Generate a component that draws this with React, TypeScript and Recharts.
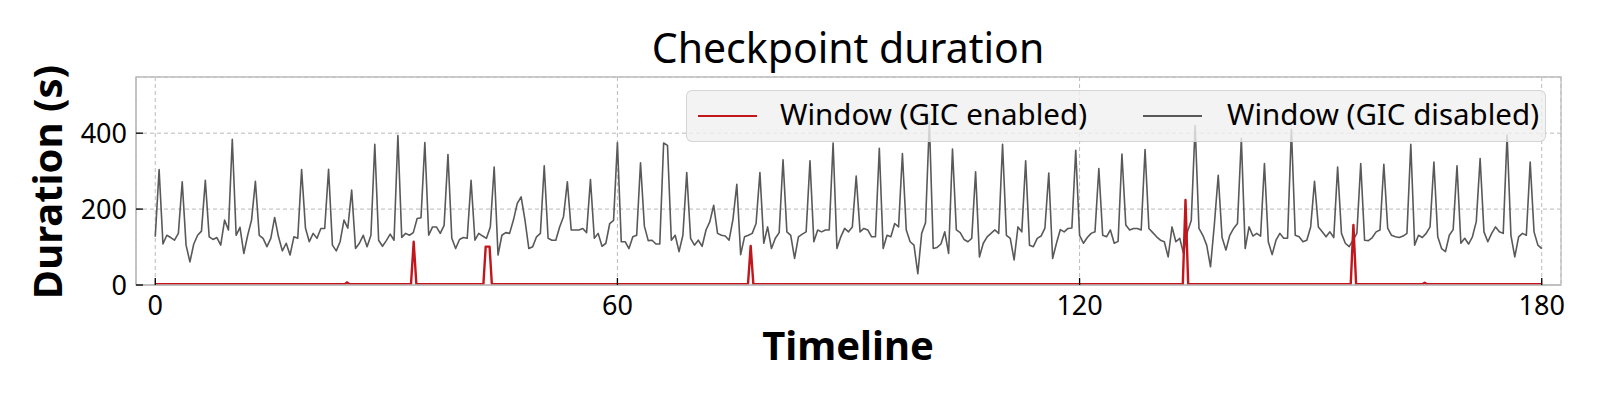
import { CartesianGrid, Legend, Line, LineChart, ReferenceArea, XAxis, YAxis } from "recharts";

// checkpoint duration samples, one every half unit of the timeline
const timeline = Array.from({ length: 361 }, (_, i) => i * 0.5);

const gicDisabled = [
  127, 304, 108, 131, 125, 118, 136, 272, 105, 61,
  108, 131, 142, 276, 127, 120, 125, 105, 171, 145,
  384, 131, 152, 83, 131, 171, 273, 131, 123, 101,
  123, 178, 127, 90, 110, 79, 127, 123, 304, 150,
  114, 136, 123, 149, 149, 305, 105, 90, 114, 171,
  150, 250, 96, 110, 131, 101, 131, 371, 118, 102,
  117, 134, 118, 394, 125, 136, 131, 138, 175, 177,
  375, 131, 153, 153, 136, 157, 344, 123, 96, 120,
  125, 123, 276, 118, 136, 129, 123, 153, 311, 79,
  131, 138, 136, 171, 215, 232, 171, 96, 101, 127,
  136, 314, 123, 118, 118, 153, 180, 272, 145, 145,
  145, 149, 138, 278, 123, 136, 102, 110, 162, 170,
  375, 114, 114, 96, 127, 131, 322, 155, 117, 118,
  108, 108, 374, 368, 118, 131, 88, 131, 296, 123,
  105, 118, 102, 145, 167, 210, 136, 131, 129, 118,
  173, 265, 80, 127, 131, 136, 162, 296, 110, 153,
  96, 123, 138, 330, 140, 131, 70, 127, 134, 140,
  327, 114, 145, 140, 145, 145, 374, 96, 127, 149,
  140, 153, 287, 140, 149, 145, 127, 127, 360, 96,
  131, 127, 162, 153, 346, 145, 114, 105, 30, 136,
  164, 430, 96, 99, 108, 140, 83, 358, 145, 138,
  120, 114, 123, 298, 74, 110, 127, 136, 145, 136,
  371, 131, 123, 66, 153, 140, 327, 105, 101, 123,
  129, 150, 295, 70, 110, 146, 140, 149, 150, 355,
  131, 110, 125, 136, 140, 307, 131, 127, 145, 110,
  115, 345, 158, 145, 149, 149, 145, 357, 149, 138,
  127, 118, 114, 74, 153, 114, 123, 83, 140, 170,
  420, 149, 131, 105, 48, 160, 289, 125, 92, 131,
  149, 162, 386, 96, 153, 129, 136, 129, 320, 114,
  80, 118, 136, 123, 123, 410, 131, 127, 114, 118,
  153, 273, 153, 140, 127, 140, 125, 311, 136, 110,
  101, 118, 136, 320, 118, 117, 125, 140, 145, 318,
  150, 131, 127, 125, 129, 136, 371, 105, 131, 125,
  136, 153, 324, 127, 96, 88, 131, 146, 314, 110,
  123, 108, 127, 167, 333, 140, 114, 136, 153, 140,
  136, 395, 131, 74, 127, 136, 131, 324, 140, 105,
  96,
];

// GIC enabled stays near zero apart from a few short spikes
const enabledTimes = [
  0, 24.6, 24.9, 25.2, 33.2, 33.55, 33.9, 42.6, 42.9, 43.4, 43.7,
  76.95, 77.3, 77.65, 133.4, 133.75, 134.1, 155.2, 155.55, 155.9,
  164.5, 164.8, 165.1, 180,
];
const gicEnabled = [
  2, 2, 7, 2, 2, 114, 2, 2, 101, 101, 2,
  2, 103, 2, 2, 224, 2, 2, 158, 2,
  2, 6, 2, 2,
];

const xTicks = [0, 60, 120, 180];
const yTicks = [0, 200, 400];
const xDomain = [-2.5, 182.5];
const yDomain = [0, 548];

const legendItems = [
  { name: "Window (GIC enabled)", color: "#c3161c", width: 2.6 },
  { name: "Window (GIC disabled)", color: "#595959", width: 1.6 },
];

const disabledData = timeline.map((t, i) => ({ t, duration: gicDisabled[i] }));
const enabledData = enabledTimes.map((t, i) => ({ t, duration: gicEnabled[i] }));

const font = "'Noto Sans', sans-serif";
const frame = { stroke: "#bdbdbd", strokeWidth: 1.3 };

function LegendBox() {
  const lineLeft = [11, 456];
  const textLeft = [93, 540];
  return (
    <div
      style={{
        position: "relative",
        width: 860,
        height: 52,
        boxSizing: "border-box",
        background: "rgba(240,240,240,0.8)",
        border: "1px solid rgba(204,204,204,0.8)",
        borderRadius: 6,
        fontFamily: font,
        fontSize: 29.5,
        color: "#000",
      }}
    >
      {legendItems.map((item, i) => (
        <div key={item.name}>
          <div
            style={{
              position: "absolute",
              left: lineLeft[i],
              top: 25 - item.width / 2,
              width: 59,
              height: item.width,
              background: item.color,
            }}
          />
          <div
            style={{
              position: "absolute",
              left: textLeft[i],
              top: 1,
              lineHeight: "43px",
              whiteSpace: "nowrap",
            }}
          >
            {item.name}
          </div>
        </div>
      ))}
    </div>
  );
}

export default function App() {
  return (
    <div
      style={{
        position: "absolute",
        left: 0,
        top: 0,
        width: 1600,
        height: 400,
        background: "#fff",
      }}
    >
      <LineChart
        width={1600}
        height={400}
        margin={{ top: 77, right: 39, bottom: 75, left: 76 }}
        style={{ fontFamily: font }}
      >
        <CartesianGrid stroke="#b3b3b3" strokeDasharray="4 3" strokeWidth={0.9} />
        <XAxis
          dataKey="t"
          type="number"
          domain={xDomain}
          ticks={xTicks}
          allowDataOverflow
          height={40}
          axisLine={frame}
          tickLine={{ stroke: "#000", strokeWidth: 1.3 }}
          tickSize={-7}
          tickMargin={18}
          tick={{ fontSize: 27, fill: "#000" }}
        />
        <YAxis
          type="number"
          domain={yDomain}
          ticks={yTicks}
          allowDataOverflow
          width={60}
          axisLine={frame}
          tickLine={{ stroke: "#000", strokeWidth: 1.3 }}
          tickSize={-7}
          tickMargin={16}
          tick={{ fontSize: 27, fill: "#000" }}
        />
        <ReferenceArea
          x1={xDomain[0]}
          x2={xDomain[1]}
          y1={yDomain[0]}
          y2={yDomain[1]}
          fill="none"
          fillOpacity={0}
          stroke={frame.stroke}
          strokeWidth={frame.strokeWidth}
        />
        <Line
          data={disabledData}
          dataKey="duration"
          name={legendItems[1].name}
          type="linear"
          stroke={legendItems[1].color}
          strokeWidth={1.6}
          strokeLinejoin="round"
          dot={false}
          isAnimationActive={false}
        />
        <Line
          data={enabledData}
          dataKey="duration"
          name={legendItems[0].name}
          type="linear"
          stroke={legendItems[0].color}
          strokeWidth={2.4}
          strokeLinejoin="round"
          dot={false}
          isAnimationActive={false}
        />
        <Legend
          layout="horizontal"
          verticalAlign="middle"
          align="center"
          content={() => <LegendBox />}
          wrapperStyle={{ left: 686, top: 90, width: 860, height: 52 }}
        />
      </LineChart>
      <svg
        width={1600}
        height={400}
        style={{ position: "absolute", left: 0, top: 0, pointerEvents: "none", fontFamily: font }}
      >
        <text x={848} y={63} textAnchor="middle" fontSize={41} fill="#000">
          Checkpoint duration
        </text>
        <text x={848} y={360} textAnchor="middle" fontSize={40} fontWeight="bold" fill="#000">
          Timeline
        </text>
        <text
          x={0}
          y={0}
          transform="translate(62 182) rotate(-90)"
          textAnchor="middle"
          fontSize={40}
          fontWeight="bold"
          fill="#000"
        >
          Duration (s)
        </text>
      </svg>
    </div>
  );
}
